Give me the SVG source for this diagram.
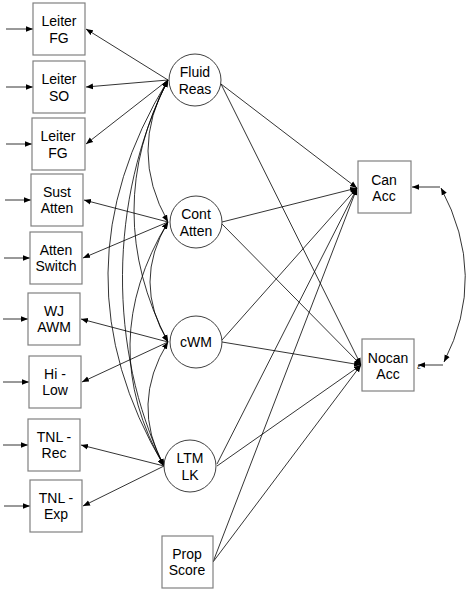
<svg xmlns="http://www.w3.org/2000/svg" width="474" height="592" viewBox="0 0 474 592">
<style>
.box{fill:#fff;stroke:#808080;stroke-width:1.2}
.circ{fill:#fff;stroke:#404040;stroke-width:1}
text{font-family:"Liberation Sans",Arial,sans-serif;font-size:14px;fill:#000;text-anchor:middle}
.ln{fill:none;stroke:#000;stroke-width:0.8}
</style>
<defs>
<marker id="ah" viewBox="0 0 10 10" refX="10" refY="5" markerWidth="7" markerHeight="7" orient="auto-start-reverse" markerUnits="userSpaceOnUse"><path d="M0,1 L10,5 L0,9 Z" fill="#000"/></marker>
</defs>
<rect width="474" height="592" fill="#fff"/>
<g id="connectors">
<line class="ln" x1="6" y1="29" x2="33" y2="29" marker-end="url(#ah)"/>
<line class="ln" x1="6" y1="87" x2="33" y2="87" marker-end="url(#ah)"/>
<line class="ln" x1="6" y1="144" x2="32" y2="144" marker-end="url(#ah)"/>
<line class="ln" x1="5" y1="200" x2="31" y2="200" marker-end="url(#ah)"/>
<line class="ln" x1="4" y1="258" x2="30" y2="258" marker-end="url(#ah)"/>
<line class="ln" x1="3" y1="319" x2="28" y2="319" marker-end="url(#ah)"/>
<line class="ln" x1="3" y1="382" x2="29" y2="382" marker-end="url(#ah)"/>
<line class="ln" x1="3" y1="445" x2="28" y2="445" marker-end="url(#ah)"/>
<line class="ln" x1="4" y1="506" x2="30" y2="506" marker-end="url(#ah)"/>
<line class="ln" x1="168" y1="80" x2="86" y2="29" marker-end="url(#ah)"/>
<line class="ln" x1="168" y1="80" x2="86" y2="87" marker-end="url(#ah)"/>
<line class="ln" x1="168" y1="80" x2="86" y2="144" marker-end="url(#ah)"/>
<line class="ln" x1="168" y1="222" x2="84" y2="200" marker-end="url(#ah)"/>
<line class="ln" x1="168" y1="222" x2="83" y2="258" marker-end="url(#ah)"/>
<line class="ln" x1="168" y1="342" x2="81" y2="319" marker-end="url(#ah)"/>
<line class="ln" x1="168" y1="342" x2="82" y2="382" marker-end="url(#ah)"/>
<line class="ln" x1="164" y1="466" x2="81" y2="445" marker-end="url(#ah)"/>
<line class="ln" x1="164" y1="466" x2="83" y2="506" marker-end="url(#ah)"/>
<path class="ln" d="M168,80 Q128,151 168,222" marker-start="url(#ah)" marker-end="url(#ah)"/>
<path class="ln" d="M168,80 Q100,211 168,342" marker-start="url(#ah)" marker-end="url(#ah)"/>
<path class="ln" d="M168,80 Q50,273 164,466" marker-start="url(#ah)" marker-end="url(#ah)"/>
<path class="ln" d="M168,80 C108,200 108,350 164,466" marker-start="url(#ah)" marker-end="url(#ah)"/>
<path class="ln" d="M168,222 Q132,282 168,342" marker-start="url(#ah)" marker-end="url(#ah)"/>
<path class="ln" d="M168,222 Q94,344 164,466" marker-start="url(#ah)" marker-end="url(#ah)"/>
<path class="ln" d="M168,342 Q130,404 164,466" marker-start="url(#ah)" marker-end="url(#ah)"/>
<line class="ln" x1="221" y1="84" x2="357" y2="188" marker-end="url(#ah)"/>
<line class="ln" x1="221" y1="84" x2="361" y2="365" marker-end="url(#ah)"/>
<line class="ln" x1="222" y1="222" x2="357" y2="188" marker-end="url(#ah)"/>
<line class="ln" x1="222" y1="224" x2="361" y2="365" marker-end="url(#ah)"/>
<line class="ln" x1="222" y1="340" x2="357" y2="188" marker-end="url(#ah)"/>
<line class="ln" x1="222" y1="342" x2="361" y2="365" marker-end="url(#ah)"/>
<line class="ln" x1="217" y1="464" x2="357" y2="188" marker-end="url(#ah)"/>
<line class="ln" x1="217" y1="466" x2="361" y2="365" marker-end="url(#ah)"/>
<line class="ln" x1="213" y1="562" x2="357" y2="188" marker-end="url(#ah)"/>
<line class="ln" x1="213" y1="562" x2="361" y2="365" marker-end="url(#ah)"/>
<line class="ln" x1="440" y1="187" x2="412" y2="187" marker-end="url(#ah)"/>
<line class="ln" x1="443" y1="365" x2="418" y2="365" marker-end="url(#ah)"/>
<path class="ln" d="M441,188 Q488,276 444,362" marker-start="url(#ah)" marker-end="url(#ah)"/>
</g>
<g id="leiter-fg-1"><rect class="box" x="33" y="3" width="52" height="52"/><text x="59" y="26">Leiter</text><text x="59" y="43">FG</text></g>
<g id="leiter-so"><rect class="box" x="33" y="61" width="52" height="52"/><text x="59" y="84">Leiter</text><text x="59" y="101">SO</text></g>
<g id="leiter-fg-2"><rect class="box" x="32" y="118" width="53" height="52"/><text x="58" y="141">Leiter</text><text x="58" y="158">FG</text></g>
<g id="sust-atten"><rect class="box" x="31" y="174" width="52" height="52"/><text x="57" y="197">Sust</text><text x="57" y="213">Atten</text></g>
<g id="atten-switch"><rect class="box" x="30" y="232" width="52" height="52"/><text x="56" y="255">Atten</text><text x="56" y="271">Switch</text></g>
<g id="wj-awm"><rect class="box" x="28" y="293" width="52" height="52"/><text x="54" y="316">WJ</text><text x="54" y="332">AWM</text></g>
<g id="hi-low"><rect class="box" x="29" y="356" width="52" height="52"/><text x="55" y="379">Hi -</text><text x="55" y="395">Low</text></g>
<g id="tnl-rec"><rect class="box" x="28" y="419" width="52" height="52"/><text x="54" y="442">TNL -</text><text x="54" y="458">Rec</text></g>
<g id="tnl-exp"><rect class="box" x="30" y="480" width="52" height="52"/><text x="56" y="503">TNL -</text><text x="56" y="519">Exp</text></g>
<g id="prop-score"><rect class="box" x="162" y="536" width="51" height="52"/><text x="187" y="559">Prop</text><text x="187" y="575">Score</text></g>
<g id="fluid-reas"><circle class="circ" cx="195" cy="80" r="26"/><text x="195" y="77">Fluid</text><text x="195" y="94">Reas</text></g>
<g id="cont-atten"><circle class="circ" cx="196" cy="222" r="26"/><text x="196" y="219">Cont</text><text x="196" y="236">Atten</text></g>
<g id="cwm"><circle class="circ" cx="196" cy="342" r="26"/><text x="196" y="347">cWM</text></g>
<g id="ltm-lk"><circle class="circ" cx="190" cy="466" r="26"/><text x="190" y="463">LTM</text><text x="190" y="480">LK</text></g>
<g id="can-acc"><rect class="box" x="358" y="161" width="53" height="52"/><text x="384" y="185">Can</text><text x="384" y="201">Acc</text></g>
<g id="nocan-acc"><rect class="box" x="362" y="339" width="52" height="52"/><text x="388" y="363">Nocan</text><text x="388" y="379">Acc</text></g>
<text x="419" y="369" style="font-size:8px;font-style:italic">ε</text>
</svg>
